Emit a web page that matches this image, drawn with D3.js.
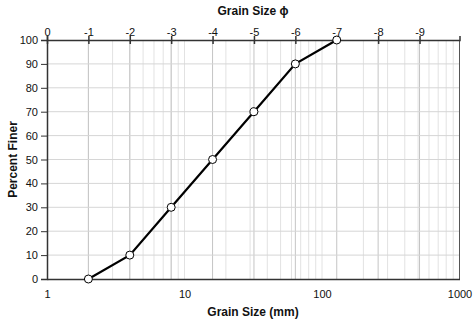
<!DOCTYPE html>
<html>
<head>
<meta charset="utf-8">
<script src="https://cdn.jsdelivr.net/npm/d3@7"></script>
<style>
  body { margin: 0; background: #fff; }
  text { font-family: "Liberation Sans", Arial, sans-serif; fill: #111; }
  .title { font-weight: bold; font-size: 12px; }
</style>
</head>
<body>
<svg id="chart" width="474" height="323"></svg>
<script>
// data
const grainSizeMm = [2, 4, 8, 16, 32, 64, 128];
const percentFiner = [0, 10, 30, 50, 70, 90, 100];
const yTicks = [0, 10, 20, 30, 40, 50, 60, 70, 80, 90, 100];
const mmTicks = [1, 10, 100, 1000];
const phiTicks = [0, -1, -2, -3, -4, -5, -6, -7, -8, -9];

const width = 474, height = 323;
const margin = { top: 40, right: 14.5, bottom: 44, left: 47 };

const svg = d3.select('#chart');

const x = d3.scaleLog().domain([1, 1000]).range([margin.left, width - margin.right]);
const y = d3.scaleLinear().domain([0, 100]).range([height - margin.bottom, margin.top]);
const phiToMm = p => Math.pow(2, -p);

// grid
const grid = svg.append('g');
const minor = [];
[1, 10, 100].forEach(dec => { for (let i = 2; i <= 9; i++) minor.push(dec * i); });
minor.push(10, 100);
grid.selectAll('.vminor').data(minor).enter().append('line')
    .attr('x1', d => x(d)).attr('x2', d => x(d))
    .attr('y1', y(0)).attr('y2', y(100))
    .attr('stroke', '#e2e2e2').attr('stroke-width', 1);
grid.selectAll('.vphi').data(phiTicks.slice(1)).enter().append('line')
    .attr('x1', d => x(phiToMm(d))).attr('x2', d => x(phiToMm(d)))
    .attr('y1', y(0)).attr('y2', y(100))
    .attr('stroke', '#c4c4c4').attr('stroke-width', 1);
grid.selectAll('.h').data(yTicks.slice(1, -1)).enter().append('line')
    .attr('x1', x(1)).attr('x2', x(1000))
    .attr('y1', d => y(d)).attr('y2', d => y(d))
    .attr('stroke', '#d6d6d6').attr('stroke-width', 1);

// frame
svg.append('line').attr('x1', x(1000)).attr('x2', x(1000)).attr('y1', y(0)).attr('y2', y(100))
    .attr('stroke', '#555').attr('stroke-width', 1);

// left axis
const yAxis = svg.append('g').attr('transform', `translate(${margin.left},0)`)
    .call(d3.axisLeft(y).tickValues(yTicks).tickSize(6).tickPadding(3));
yAxis.select('.domain').attr('stroke', '#333').attr('stroke-width', 1.5);
yAxis.selectAll('line').attr('stroke', '#333');
yAxis.selectAll('text').attr('font-size', 11).attr('font-family', 'Liberation Sans, Arial, sans-serif').attr('fill', '#111');

// bottom axis
const xAxis = svg.append('g').attr('transform', `translate(0,${height - margin.bottom})`)
    .call(d3.axisBottom(x).tickValues(mmTicks).tickFormat(d3.format('d')).tickSize(0).tickPadding(11));
xAxis.select('.domain').attr('stroke', '#333').attr('stroke-width', 1.5);
xAxis.selectAll('text').attr('font-size', 11).attr('font-family', 'Liberation Sans, Arial, sans-serif').attr('fill', '#111');

// top phi axis
const phiScale = d3.scaleLinear().domain([0, -Math.log2(1000)]).range([x(1), x(1000)]);
const topAxis = svg.append('g').attr('transform', `translate(0,${margin.top})`)
    .call(d3.axisTop(phiScale).tickValues(phiTicks).tickFormat(d3.format('d')).tickSize(4).tickPadding(0));
topAxis.select('.domain').attr('stroke', '#333').attr('stroke-width', 1.5);
topAxis.selectAll('.tick line').attr('y2', 4).attr('y1', -4).attr('stroke', '#333').attr('stroke-width', 1.5);
topAxis.selectAll('text').attr('font-size', 11).attr('font-family', 'Liberation Sans, Arial, sans-serif').attr('fill', '#111')
    .text(d => d === 0 ? '0' : '-' + Math.abs(d));

// curve
const line = d3.line().x((d, i) => x(grainSizeMm[i])).y(d => y(d));
svg.append('path').datum(percentFiner)
    .attr('d', line).attr('fill', 'none').attr('stroke', '#000').attr('stroke-width', 2.2);
svg.selectAll('.pt').data(percentFiner).enter().append('circle')
    .attr('cx', (d, i) => x(grainSizeMm[i])).attr('cy', d => y(d)).attr('r', 4)
    .attr('fill', '#fff').attr('stroke', '#000').attr('stroke-width', 1);

// titles
svg.append('text').attr('class', 'title').attr('x', 253).attr('y', 15)
    .attr('text-anchor', 'middle').text('Grain Size ϕ');
svg.append('text').attr('class', 'title').attr('x', 253).attr('y', 316)
    .attr('text-anchor', 'middle').text('Grain Size (mm)');
svg.append('text').attr('class', 'title')
    .attr('transform', `translate(17,${y(50)}) rotate(-90)`)
    .attr('text-anchor', 'middle').text('Percent Finer');
</script>
</body>
</html>
